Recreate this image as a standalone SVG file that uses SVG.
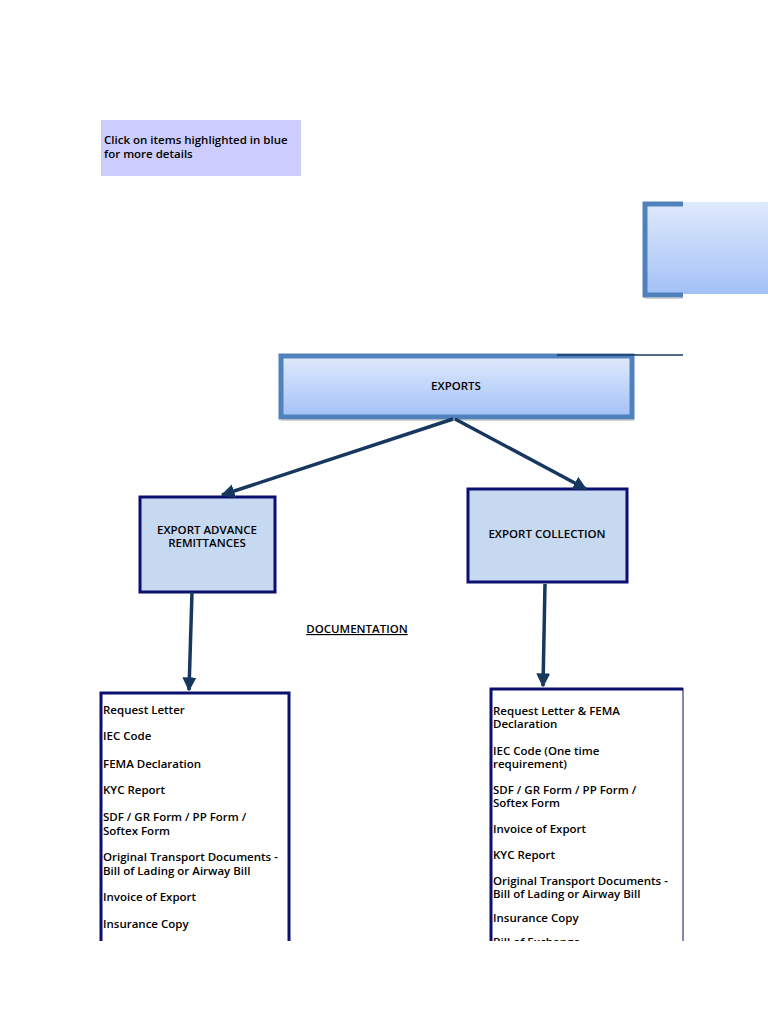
<svg xmlns="http://www.w3.org/2000/svg" width="768" height="1024" viewBox="0 0 768 1024">
<defs>
<linearGradient id="g" x1="0" y1="0" x2="0" y2="1"><stop offset="0" stop-color="#e0eafc"/><stop offset="1" stop-color="#a3c1f7"/></linearGradient>
<marker id="ah" viewBox="0 0 10 10" refX="9" refY="5" markerWidth="4" markerHeight="4" orient="auto"><path d="M0,0L10,5L0,10z" fill="#17375e"/></marker>
<clipPath id="clip"><rect x="0" y="0" width="768" height="941"/></clipPath>
</defs>
<style>
text{font-family:"Open Sans","Liberation Sans",sans-serif;font-size:11.5px;font-weight:600;fill:#000}
.c{text-anchor:middle}
.n{fill:#c6d9f1;stroke:#0b0f6e;stroke-width:3}
.b{fill:#fff;stroke:#0b0f6e;stroke-width:3}
.conn{stroke:#17375e;stroke-width:3.5;fill:none;marker-end:url(#ah)}
</style>
<g id="note"><rect x="101" y="120" width="200" height="56" fill="#ccccff"/><text x="104" y="144">Click on items highlighted in blue</text><text x="104" y="158">for more details</text></g>
<g id="bluebox"><rect x="646" y="202" width="122" height="92" fill="url(#g)"/><path d="M683,204H645V295H683" fill="none" stroke="#4f81bd" stroke-width="5"/><line x1="645" y1="298" x2="683" y2="298" stroke="#aaa" stroke-width="1"/></g>
<g id="exports"><rect x="281" y="356" width="351" height="61" fill="url(#g)" stroke="#4f81bd" stroke-width="5"/><line x1="281" y1="420" x2="634" y2="420" stroke="#aaa"/><line x1="557" y1="355" x2="683" y2="355" stroke="#17375e" stroke-width="1.5"/><text class="c" x="456" y="390">EXPORTS</text></g>
<g id="adv"><rect class="n" x="140" y="497" width="135" height="95"/><text class="c" x="207" y="534">EXPORT ADVANCE</text><text class="c" x="207" y="547">REMITTANCES</text></g>
<g id="coll"><rect class="n" x="468" y="489" width="159" height="93"/><text class="c" x="547" y="538">EXPORT COLLECTION</text></g>
<g id="doc"><text class="c" x="357" y="633" text-decoration="underline">DOCUMENTATION</text></g>
<g id="connectors">
<line class="conn" x1="453" y1="419" x2="222" y2="495"/>
<line class="conn" x1="455" y1="419" x2="586" y2="489"/>
<line class="conn" x1="192" y1="592" x2="189" y2="690"/>
<line class="conn" x1="545" y1="584" x2="543" y2="686"/>
</g>
<g clip-path="url(#clip)">
<g id="left"><rect class="b" x="101" y="693" width="188" height="300"/>
<text x="103" y="714">Request Letter</text><text x="103" y="740">IEC Code</text><text x="103" y="768">FEMA Declaration</text><text x="103" y="794">KYC Report</text><text x="103" y="821">SDF / GR Form / PP Form /</text><text x="103" y="835">Softex Form</text><text x="103" y="861">Original Transport Documents -</text><text x="103" y="875">Bill of Lading or Airway Bill</text><text x="103" y="901">Invoice of Export</text><text x="103" y="928">Insurance Copy</text></g>
<g id="right"><path d="M683,689H491V1000" fill="none" stroke="#0b0f6e" stroke-width="3"/><line x1="683" y1="688" x2="683" y2="1000" stroke="#0b0f6e" stroke-width="1"/>
<text x="493" y="715">Request Letter &amp; FEMA</text><text x="493" y="728">Declaration</text><text x="493" y="755">IEC Code (One time</text><text x="493" y="768">requirement)</text><text x="493" y="794">SDF / GR Form / PP Form /</text><text x="493" y="807">Softex Form</text><text x="493" y="833">Invoice of Export</text><text x="493" y="859">KYC Report</text><text x="493" y="885">Original Transport Documents -</text><text x="493" y="898">Bill of Lading or Airway Bill</text><text x="493" y="922">Insurance Copy</text><text x="493" y="946">Bill of Exchange</text></g>
</g>
</svg>
